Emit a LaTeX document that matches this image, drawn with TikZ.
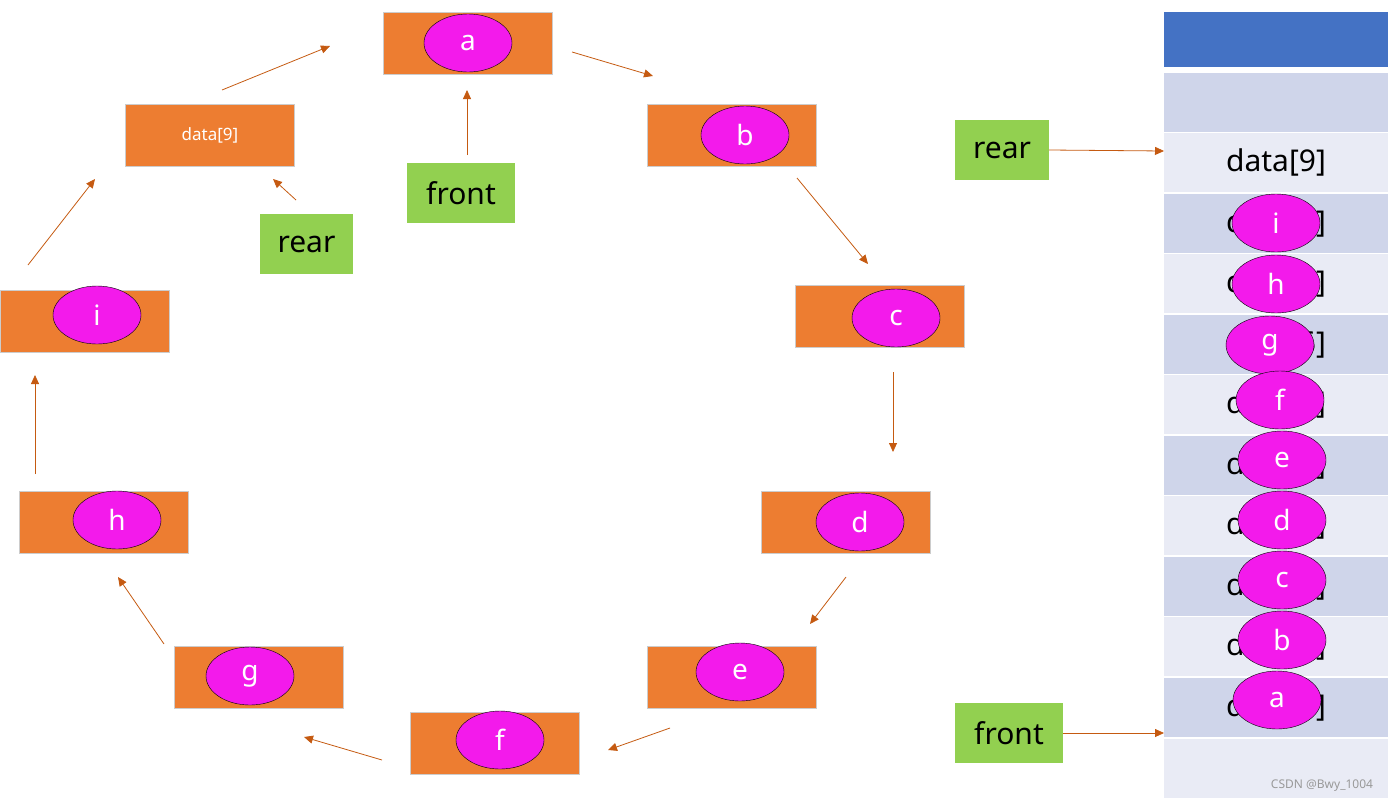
\documentclass[tikz,border=0pt]{standalone}
\usepackage{fontspec}
\setmainfont{Noto Sans}
\begin{document}
\begin{tikzpicture}[x=1pt,y=-1pt,
 box/.style={draw=black!20,fill=orange1,minimum width=169pt,minimum height=62pt,inner sep=0pt,text=white,font=\fontsize{17}{19}\selectfont},
 el/.style={ellipse,draw=black,fill=mag,minimum width=88pt,minimum height=58pt,inner sep=0pt,text=white,font=\fontsize{28}{30}\selectfont},
 lab/.style={fill=green1,inner sep=0pt,minimum height=60pt,font=\fontsize{30}{32}\selectfont},
 arr/.style={draw=arrc,-{Triangle[length=9pt,width=8pt]},line width=0.8pt},
 row/.style={draw=white,line width=1.5pt,minimum width=225pt,minimum height=60.5pt,inner sep=0pt,font=\fontsize{30}{32}\selectfont}]
\usetikzlibrary{shapes.geometric,arrows.meta}
\definecolor{orange1}{HTML}{ED7D31}
\definecolor{mag}{HTML}{F31AEB}
\definecolor{green1}{HTML}{92D050}
\definecolor{arrc}{HTML}{C55A11}
\definecolor{rowd}{HTML}{CFD5EA}
\definecolor{rowl}{HTML}{E9EBF5}
\definecolor{hdr}{HTML}{4472C4}
\useasboundingbox (0,0) rectangle (1394,803);
% ring boxes
\node[box] (ba) at (468,43) {data[0]};
\node[box] (bb) at (732,135) {data[1]};
\node[box] (bc) at (880,316) {data[2]};
\node[box] (bd) at (846,522) {data[3]};
\node[box] (be) at (732,677) {data[4]};
\node[box] (bf) at (495,743) {data[5]};
\node[box] (bg) at (259,677) {data[6]};
\node[box] (bh) at (104,522) {data[7]};
\node[box] (bi) at (85,321) {data[8]};
\node[box] (b9) at (210,135) {data[9]};
\node[el] (ea) at (468,43) {a};
\node[el] (eb) at (745,135) {b};
\node[el] (ec) at (896,318) {c};
\node[el] (ed) at (860,522) {d};
\node[el] (ee) at (740,672) {e};
\node[el] (ef) at (500,740) {f};
\node[el] (eg) at (250,676) {g};
\node[el] (eh) at (117,520) {h};
\node[el] (ei) at (97,315) {i};
% ring arrows
\foreach \n/\ax/\ay/\bx/\by in {1/222/90/330/46, 2/572/52/653/76, 3/797/178/868/264, 4/893/372/893/452, 5/846/577/810/624, 6/670/728/608/750, 7/382/760/304/737, 8/164/644/118/577, 9/35/474/35/375, 10/28/265/95/179, 11/467/155/467/90, 12/296/200/273/179}{
  \coordinate (s\n) at (\ax,\ay); \coordinate (t\n) at (\bx,\by);
  \draw[arr] (s\n) -- (t\n);}
% labels
\node[lab,minimum width=108pt] (fr) at (461,193) {front};
\node[lab,minimum width=93pt] (re) at (306.5,244) {rear};
\node[lab,minimum width=94pt] (re2) at (1002,150) {rear};
\node[lab,minimum width=108pt] (fr2) at (1009,733) {front};
% table
\node[row,fill=hdr,minimum height=57pt] (h0) at (1276,39.5) {};
\node[row,fill=rowd] (r0) at (1276,102) {};
\node[row,fill=rowl] (r9) at (1276,162.5) {data[9]};
\node[row,fill=rowd] (r8) at (1276,223) {data[8]};
\node[row,fill=rowl] (r7) at (1276,283.5) {data[7]};
\node[row,fill=rowd] (r6) at (1276,344) {data[6]};
\node[row,fill=rowl] (r5) at (1276,404.5) {data[5]};
\node[row,fill=rowd] (r4) at (1276,465) {data[4]};
\node[row,fill=rowl] (r3) at (1276,525.5) {data[3]};
\node[row,fill=rowd] (r2) at (1276,586) {data[2]};
\node[row,fill=rowl] (r1) at (1276,646.5) {data[1]};
\node[row,fill=rowd] (ra) at (1276,707) {data[0]};
\node[row,fill=rowl] (rz) at (1276,768) {};
\node[el] at (1276,223) {i};
\node[el] at (1276,284) {h};
\node[el] at (1270,345) {g};
\node[el] at (1280,400) {f};
\node[el] at (1282,460) {e};
\node[el] at (1282,520) {d};
\node[el] at (1282,580) {c};
\node[el] at (1282,640) {b};
\node[el] at (1277,700) {a};
\coordinate (p1) at (1164,151); \coordinate (p2) at (1164,733);
\draw[arr] (re2.east) -- (p1);
\draw[arr] (fr2.east) -- (p2);
\node[text=black!40,font=\fontsize{12}{14}\selectfont] (wm) at (1322,786) {CSDN @Bwy\_1004};
\end{tikzpicture}
\end{document}
